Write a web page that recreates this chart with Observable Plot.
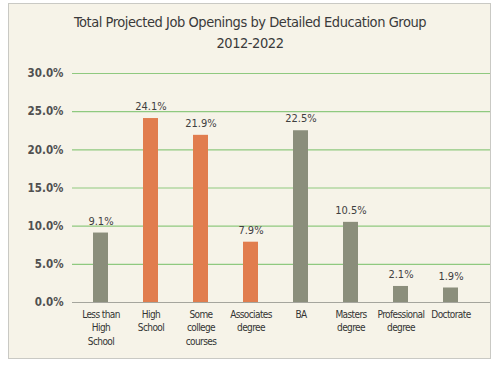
<!DOCTYPE html>
<html><head><meta charset="utf-8">
<script src="https://cdn.jsdelivr.net/npm/d3@7"></script>
<script src="https://cdn.jsdelivr.net/npm/@observablehq/plot@0.6"></script>
<style>
body{margin:0;background:#fff;}
#wrap{position:relative;width:500px;height:368px;overflow:hidden;}
#panel{position:absolute;left:8px;top:3px;width:481px;height:354px;background:#f6f3e8;border:1px solid #c9c9c4;}
#title{position:absolute;left:0;top:12px;width:500px;text-align:center;font-family:"DejaVu Sans Condensed",sans-serif;font-size:14.5px;letter-spacing:-0.45px;line-height:21px;color:#3a3a3a;}
#chart{position:absolute;left:0;top:0;}
.xlab text{letter-spacing:-0.6px;}
</style></head>
<body><div id="wrap"><div id="panel"></div><div id="title">Total Projected Job Openings by Detailed Education Group<br>2012-2022</div><div id="chart"></div></div>
<script>
const categories = ["Less than\nHigh\nSchool","High\nSchool","Some\ncollege\ncourses","Associates\ndegree","BA","Masters\ndegree","Professional\ndegree","Doctorate"];
const values = [9.1, 24.1, 21.9, 7.9, 22.5, 10.5, 2.1, 1.9];
const groups = ["other","highlight","highlight","highlight","other","other","other","other"];
const yTicks = [0, 5, 10, 15, 20, 25, 30];

const data = categories.map((c,i)=>({cat:c, value:values[i], group:groups[i]}));

const chart = Plot.plot({
  width: 500, height: 368,
  marginLeft: 72, marginRight: 10, marginTop: 73, marginBottom: 66,
  style: {background: "transparent", fontFamily: "'DejaVu Sans Condensed',sans-serif"},
  x: {domain: categories, range: [72, 478], paddingInner: 0.7, paddingOuter: 0.35, label: null},
  y: {domain: [0, 30], label: null},
  color: {domain: ["other","highlight"], range: ["#8b8e7b","#e17d4e"]},
  marks: [
    Plot.ruleY(yTicks.filter(d=>d>0), {stroke: "#8fc97f", strokeWidth: 1.2}),
    Plot.ruleY([0], {stroke: "#a5a59d", strokeWidth: 1.2}),
    Plot.barY(data, {x: "cat", y: "value", fill: "group"}),
    Plot.text(data, {x: "cat", y: "value", text: d => d.value.toFixed(1) + "%", dy: -12, fontSize: 11, fill: "#3f3f3f"}),
    Plot.axisY({ticks: yTicks, tickFormat: d => d.toFixed(1) + "%", tickSize: 0, tickPadding: 9, fontSize: 11.5, fontWeight: "bold", fill: "#505050"}),
    Plot.axisX({tickSize: 0, tickPadding: 6, fontSize: 10, lineHeight: 1.33, fill: "#333", className: "xlab"})
  ]
});
document.getElementById("chart").appendChild(chart);
</script></body></html>
